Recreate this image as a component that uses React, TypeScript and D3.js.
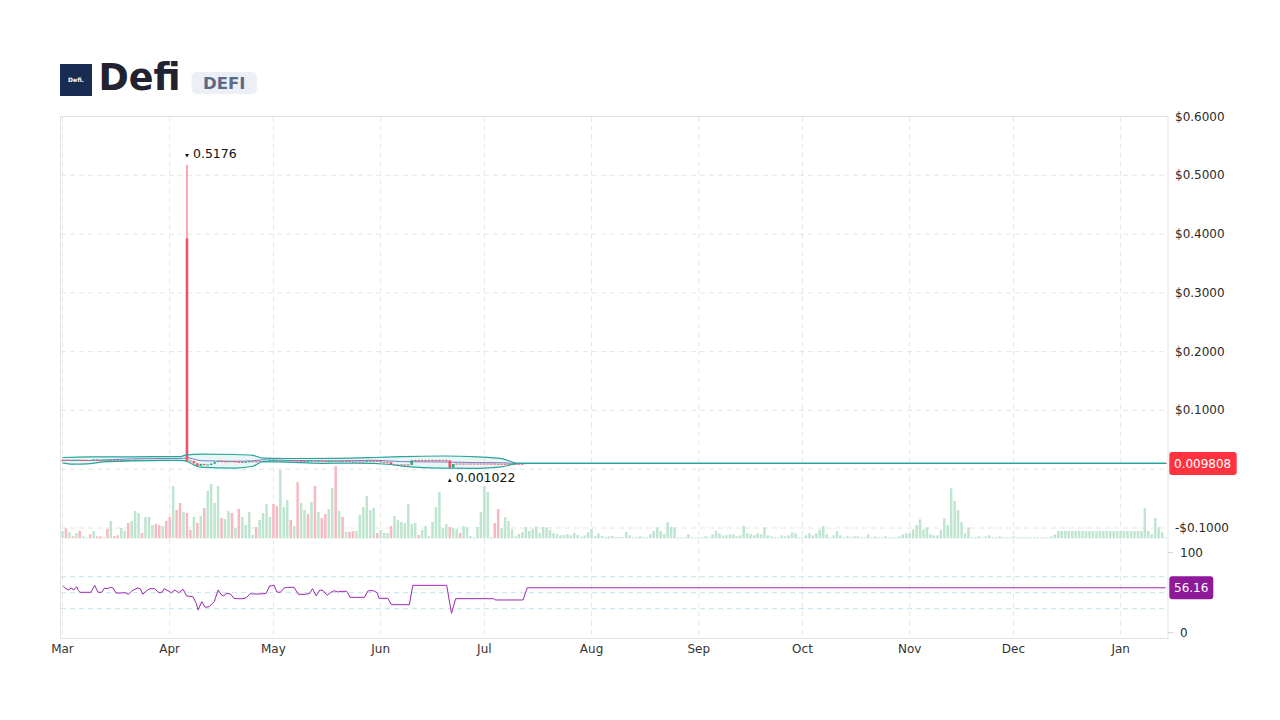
import React from 'react';
import * as d3 from 'd3';

// ---------- data ----------
const START = Date.UTC(2023, 2, 1);
const DAY = 86400000;
const dayDate = (d: number) => new Date(START + d * DAY);

const LAST_DAY = 319;
const FLAT_PRICE = 0.009808;
const LAST_RSI = 56.16;

// daily closes from Mar 1 (day 0) to day 134; afterwards price stays at FLAT_PRICE
const closes = [
  0.0150, 0.0147, 0.0145, 0.0149, 0.0151, 0.0146, 0.0146, 0.0146, 0.0146, 0.0156,
  0.0146, 0.0146, 0.0152, 0.0151, 0.0153, 0.0145, 0.0145, 0.0145, 0.0146, 0.0144,
  0.0149, 0.0153, 0.0152, 0.0144, 0.0149, 0.0152, 0.0152, 0.0152, 0.0147, 0.0151,
  0.0148, 0.0146, 0.0149, 0.0146, 0.0150, 0.0150, 0.0140, 0.0139, 0.0100, 0.0060,
  0.0090, 0.0070, 0.0072, 0.0095, 0.0120, 0.0136, 0.0126, 0.0124, 0.0128, 0.0127,
  0.0118, 0.0117, 0.0117, 0.0119, 0.0127, 0.0126, 0.0126, 0.0126, 0.0127, 0.0128,
  0.0143, 0.0144, 0.0134, 0.0133, 0.0140, 0.0141, 0.0141, 0.0141, 0.0130, 0.0130,
  0.0130, 0.0132, 0.0140, 0.0128, 0.0137, 0.0136, 0.0128, 0.0132, 0.0136, 0.0134,
  0.0135, 0.0135, 0.0135, 0.0124, 0.0124, 0.0124, 0.0124, 0.0124, 0.0135, 0.0135,
  0.0135, 0.0130, 0.0118, 0.0118, 0.0118, 0.0072, 0.0072, 0.0072, 0.0072, 0.0072,
  0.0072, 0.0150, 0.0150, 0.0150, 0.0150, 0.0150, 0.0150, 0.0150, 0.0150, 0.0150,
  0.0150, 0.0150, 0.0030, 0.0088, 0.0088, 0.0088, 0.0088, 0.0088, 0.0088, 0.0088,
  0.0088, 0.0088, 0.0088, 0.0088, 0.0088, 0.0085, 0.0085, 0.0085, 0.0085, 0.0085,
  0.0085, 0.0085, 0.0085, 0.0085, 0.009808,
];
const openOverrides: [number, number][] = [[36, 0.3926]];
const highOverrides: [number, number][] = [[36, 0.5176], [112, 0.0150]];
const lowOverrides: [number, number][] = [[36, 0.0140], [112, 0.001022]];

// daily volume (relative units), day 0 .. 319
const volumes = [
  22, 30, 18, 6, 15, 22, 6, 2, 12, 22, 6, 6, 3, 28, 52, 6, 9, 31, 22, 46,
  52, 82, 76, 16, 64, 64, 40, 43, 40, 37, 52, 64, 157, 85, 106, 79, 76, 25, 64, 46,
  67, 91, 142, 163, 106, 157, 61, 58, 82, 76, 31, 88, 64, 40, 79, 10, 34, 55, 76, 103,
  64, 103, 97, 205, 94, 115, 55, 37, 169, 106, 85, 73, 109, 157, 79, 61, 73, 88, 151, 217,
  82, 64, 19, 19, 22, 22, 70, 94, 127, 85, 91, 16, 25, 16, 16, 37, 67, 55, 49, 46,
  103, 43, 46, 10, 25, 37, 7, 49, 94, 139, 30, 43, 34, 31, 28, 16, 37, 34, 7, 3,
  34, 79, 157, 139, 4, 46, 88, 31, 64, 52, 27, 6, 13, 19, 34, 22, 28, 36, 16, 34,
  33, 25, 15, 13, 9, 10, 13, 9, 16, 10, 4, 9, 18, 28, 6, 15, 7, 4, 6, 7,
  4, 4, 3, 19, 9, 3, 4, 6, 3, 3, 12, 22, 33, 22, 13, 49, 34, 33, 3, 3,
  3, 12, 3, 1, 3, 3, 6, 3, 12, 22, 15, 9, 9, 12, 12, 6, 9, 37, 15, 12,
  9, 15, 12, 33, 9, 6, 3, 3, 9, 6, 9, 18, 15, 3, 3, 9, 15, 9, 15, 25,
  37, 12, 3, 9, 22, 9, 3, 6, 3, 6, 6, 3, 3, 12, 3, 6, 3, 3, 6, 3,
  3, 3, 6, 12, 15, 15, 27, 40, 57, 27, 33, 12, 9, 9, 25, 60, 40, 150, 112, 85,
  49, 15, 33, 3, 3, 6, 3, 6, 9, 3, 3, 6, 3, 3, 3, 6, 3, 3, 3, 3,
  3, 3, 3, 3, 3, 3, 6, 12, 22, 22, 22, 22, 22, 22, 22, 22, 22, 22, 22, 22,
  22, 22, 22, 22, 22, 22, 22, 22, 22, 22, 22, 22, 22, 91, 22, 12, 61, 33, 18, 3,
];
const downVolumeDays = [
  1, 3, 5, 8, 10, 11, 13, 15, 16, 19, 23, 27, 28, 30, 31, 33, 34, 36, 37, 39, 41, 46,
  49, 51, 56, 61, 62, 66, 68, 71, 73, 75, 76, 79, 81, 83, 84, 91, 95, 103, 112, 115, 125, 126,
];

// Bollinger band readings [day, price]
const bbUpper: [number, number][] = [
  [0, 0.0199], [8, 0.0210], [20, 0.0210], [32, 0.0215], [34, 0.0215], [36, 0.0245], [40, 0.0256],
  [50, 0.0250], [55, 0.0235], [58, 0.0190], [65, 0.0182], [80, 0.0185], [90, 0.0199],
  [98, 0.0215], [110, 0.0225], [120, 0.0210], [127, 0.0180], [132, FLAT_PRICE], [LAST_DAY, FLAT_PRICE],
];
const bbLower: [number, number][] = [
  [0, 0.0107], [3, 0.0085], [7, 0.0090], [12, 0.0125], [20, 0.0141], [32, 0.0150], [35, 0.0145],
  [40, 0.0035], [50, 0.0020], [55, 0.0050], [58, 0.0130], [65, 0.0119], [75, 0.0100],
  [85, 0.0105], [95, 0.0080], [100, 0.0045], [110, 0.0020], [120, 0.0015], [127, 0.0040],
  [132, FLAT_PRICE], [LAST_DAY, FLAT_PRICE],
];

// RSI readings [day, value]
const rsiPoints: [number, number][] = [
  [0.2, 58.4], [1.0, 55.0], [1.8, 53.4], [2.5, 55.9], [3.3, 53.4], [4.1, 57.5], [4.6, 52.5],
  [5.1, 50.5], [8.2, 50.5], [9.3, 59.2], [10.3, 50.5], [11.3, 50.5], [12.2, 55.9], [12.9, 55.0],
  [13.9, 56.7], [14.6, 55.9], [15.5, 49.6], [16.5, 49.6], [18.1, 50.0], [19.1, 48.0], [20.1, 52.5],
  [21.7, 55.9], [22.5, 55.0], [23.2, 48.0], [24.3, 52.5], [25.3, 55.0], [26.6, 55.0], [27.9, 50.0],
  [28.9, 50.9], [29.4, 55.0], [30.5, 52.5], [31.5, 50.0], [32.5, 53.4], [33.6, 50.0], [34.9, 54.2],
  [35.9, 45.9], [37.7, 45.0], [38.7, 36.7], [39.2, 28.4], [40.3, 38.8], [41.3, 31.7], [42.4, 32.5],
  [43.9, 38.8], [45.0, 53.4], [46.0, 47.1], [46.5, 45.9], [47.5, 49.2], [48.6, 48.4], [49.6, 43.0],
  [50.6, 42.5], [52.2, 42.5], [53.2, 43.8], [54.3, 48.8], [55.3, 48.4], [57.4, 48.4], [58.9, 49.2],
  [59.9, 58.4], [61.2, 59.2], [62.0, 50.9], [63.0, 50.5], [64.1, 55.9], [65.1, 56.7], [67.0, 56.7],
  [68.2, 48.0], [70.3, 48.0], [71.5, 49.2], [72.3, 55.0], [73.4, 45.9], [74.4, 53.4], [75.4, 52.5],
  [76.5, 46.7], [77.5, 50.0], [78.5, 52.5], [79.6, 50.9], [80.6, 51.7], [82.2, 51.7], [83.2, 44.2],
  [87.3, 44.2], [88.4, 52.5], [89.9, 52.5], [91.0, 50.0], [91.5, 43.0], [94.1, 43.0], [95.1, 35.0],
  [100.3, 35.0], [101.3, 59.2], [111.1, 59.2], [112.5, 24.2], [113.7, 42.5], [124.6, 42.5],
  [125.3, 40.9], [133.2, 40.9], [134.4, LAST_RSI], [LAST_DAY, LAST_RSI],
];

const priceTicks = [-0.1, 0, 0.1, 0.2, 0.3, 0.4, 0.5, 0.6];
const rsiTicks = [0, 100];
const rsiBands = [30, 50, 70];

// ---------- layout ----------
const W = 1280, H = 720;
const L = 61, R = 1168, TOP = 116.5, BOTTOM = 638.5;
const FONT = '"DejaVu Sans", sans-serif';
const RED = '#ef5366';
const GREEN = '#34a37e';

export default function App() {
  const x = d3.scaleUtc().domain([dayDate(-0.43), dayDate(319.7)]).range([L, R]);
  const y = d3.scaleLinear().domain([-0.1, 0.6]).range([528, TOP]);
  const yVol = d3.scaleLinear().domain([0, 217]).range([538.3, 466]);
  const yRsi = d3.scaleLinear().domain([0, 100]).range([632.7, 552.7]);
  const xd = (d: number) => x(dayDate(d));

  // candles
  const candles: { d: number; o: number; h: number; l: number; c: number }[] = [];
  let prev = closes[0];
  for (let d = 0; d <= LAST_DAY; d++) {
    const c = d < closes.length ? closes[d] : FLAT_PRICE;
    let o = prev;
    const oo = openOverrides.find((e) => e[0] === d);
    if (oo) o = oo[1];
    let h = Math.max(o, c), l = Math.min(o, c);
    const ho = highOverrides.find((e) => e[0] === d);
    if (ho) h = ho[1];
    const lo = lowOverrides.find((e) => e[0] === d);
    if (lo) l = lo[1];
    candles.push({ d, o, h, l, c });
    prev = c;
  }

  const monthTicks = d3.utcMonth.range(dayDate(-0.43), dayDate(319.7));
  const fmtMonth = d3.utcFormat('%b');
  const fmtPrice = (v: number) => (v < 0 ? '-$' : '$') + Math.abs(v).toFixed(4);

  const bandLine = d3.line<[number, number]>().x((p) => xd(p[0])).y((p) => y(p[1])).curve(d3.curveMonotoneX);
  const middle: [number, number][] = bbUpper.map((p) => {
    const low = bbLower.reduce((a, b) => (Math.abs(b[0] - p[0]) < Math.abs(a[0] - p[0]) ? b : a));
    return [p[0], (p[1] + low[1]) / 2];
  });
  const bandPath = (() => {
    const up = bandLine(bbUpper) || '';
    const low = bandLine([...bbLower].reverse()) || '';
    return up + 'L' + low.slice(1) + 'Z';
  })();
  const rsiLine = d3.line<[number, number]>().x((p) => xd(p[0])).y((p) => yRsi(p[1]));

  const highC = candles[36];
  const lowC = candles[112];

  return (
    <svg width={W} height={H} style={{ position: 'absolute', left: 0, top: 0, background: '#fff' }} fontFamily={FONT}>
      {/* header */}
      <rect x={60} y={64} width={32} height={32} fill="#182b50" />
      <text x={76} y={81.5} fontSize={6} fontWeight="bold" fill="#fff" textAnchor="middle">Defi.</text>
      <text x={98.5} y={90} fontSize={36.5} fontWeight="bold" fill="#222230">Defi</text>
      <rect x={191.5} y={72} width={65.5} height={22} rx={5} fill="#eceff5" />
      <text x={224.2} y={88.5} fontSize={16.5} fontWeight="bold" fill="#5a6a87" textAnchor="middle">DEFI</text>

      {/* grid */}
      {priceTicks.map((t) => (
        <line key={'hg' + t} x1={L} x2={R} y1={y(t)} y2={y(t)} stroke="#e6e6e6" strokeDasharray="5,4" />
      ))}
      {monthTicks.map((m) => (
        <line key={'vg' + m.getTime()} x1={x(m)} x2={x(m)} y1={TOP} y2={BOTTOM} stroke="#e6e6e6" strokeDasharray="5,4" />
      ))}
      {rsiBands.map((b) => (
        <line key={'rb' + b} x1={L} x2={R} y1={yRsi(b)} y2={yRsi(b)} stroke="#c5e4f0" strokeDasharray="5,4" />
      ))}

      {/* border */}
      <rect x={L - 0.5} y={TOP} width={R - L + 0.5} height={BOTTOM - TOP} fill="none" stroke="#e3e3e3" />

      {/* volume */}
      {volumes.map((v, d) => (
        <rect
          key={'v' + d}
          x={xd(d) - 1.25}
          y={yVol(v)}
          width={2.5}
          height={Math.max(0.6, yVol(0) - yVol(v))}
          fill={downVolumeDays.includes(d) ? '#f6b9c1' : '#bfe5d0'}
        />
      ))}

      {/* bollinger band fill + middle */}
      <path d={bandPath} fill="rgba(38,166,154,0.10)" stroke="none" />
      <path d={bandLine(middle) || ''} fill="none" stroke="#5c6bc0" strokeWidth={1} opacity={0.85} />

      {/* candles */}
      {candles.map((k) => {
        const col = k.c > k.o ? GREEN : RED;
        const top = y(Math.max(k.o, k.c));
        const h = Math.max(1, y(Math.min(k.o, k.c)) - top);
        return (
          <g key={'c' + k.d}>
            {k.h > k.l && <line x1={xd(k.d)} x2={xd(k.d)} y1={y(k.h)} y2={y(k.l)} stroke={col} strokeWidth={1} />}
            <rect x={xd(k.d) - 1.3} y={h === 1 ? top - 0.5 : top} width={2.6} height={h} fill={col} />
          </g>
        );
      })}

      {/* bollinger band lines */}
      <path d={bandLine(bbUpper) || ''} fill="none" stroke="#26a69a" strokeWidth={1.2} />
      <path d={bandLine(bbLower) || ''} fill="none" stroke="#26a69a" strokeWidth={1.2} />

      {/* high / low annotations */}
      <path
        d={`M${xd(highC.d) - 2},${y(highC.h) - 11} L${xd(highC.d) + 2},${y(highC.h) - 11} L${xd(highC.d)},${y(highC.h) - 7.5} Z`}
        fill="#111"
      />
      <text x={xd(highC.d) + 6} y={y(highC.h) - 6.5} fontSize={12.5} fill="#111">{highC.h.toFixed(4)}</text>
      <path
        d={`M${xd(lowC.d) - 2},${y(lowC.l) + 13.5} L${xd(lowC.d) + 2},${y(lowC.l) + 13.5} L${xd(lowC.d)},${y(lowC.l) + 10} Z`}
        fill="#111"
      />
      <text x={xd(lowC.d) + 6} y={y(lowC.l) + 13} fontSize={12.5} fill="#111">{lowC.l.toFixed(6)}</text>

      {/* RSI */}
      <path d={rsiLine(rsiPoints) || ''} fill="none" stroke="#9c27b0" strokeWidth={1} />

      {/* price axis (the $0.0000 label sits under the last-price tag) */}
      {priceTicks.filter((t) => t !== 0).map((t) => (
        <text key={'pt' + t} x={1175} y={y(t) + 4} fontSize={12} fill="#2a2a2a">{fmtPrice(t)}</text>
      ))}
      {rsiTicks.map((t) => (
        <g key={'rt' + t}>
          <line x1={R} x2={R + 5} y1={yRsi(t)} y2={yRsi(t)} stroke="#cfcfcf" />
          <text x={1180} y={yRsi(t) + 4.5} fontSize={12} fill="#2a2a2a">{t}</text>
        </g>
      ))}
      {monthTicks.map((m) => (
        <text key={'mt' + m.getTime()} x={x(m)} y={653} fontSize={12} fill="#333" textAnchor="middle">{fmtMonth(m)}</text>
      ))}

      {/* last value labels */}
      <rect x={1169.3} y={y(FLAT_PRICE) - 11.5} width={67.4} height={23} rx={3} fill="#ff3340" />
      <text x={1174} y={y(FLAT_PRICE) + 4.5} fontSize={12} fill="#fff">{FLAT_PRICE.toFixed(6)}</text>
      <rect x={1169.3} y={yRsi(LAST_RSI) - 11.5} width={44} height={23} rx={3} fill="#8e1a9a" />
      <text x={1174} y={yRsi(LAST_RSI) + 4.5} fontSize={12} fill="#fff">{LAST_RSI.toFixed(2)}</text>
    </svg>
  );
}
